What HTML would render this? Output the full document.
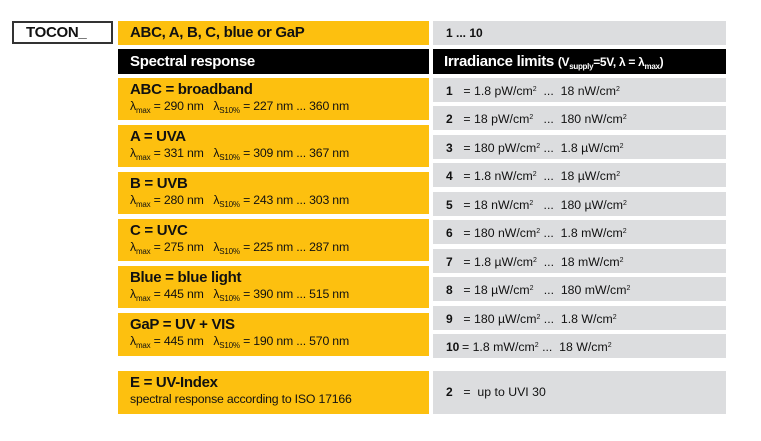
<!DOCTYPE html>
<html><head><meta charset="utf-8"><style>
*{margin:0;padding:0;box-sizing:border-box}
body{width:761px;height:441px;background:#fff;position:relative;font-family:"Liberation Sans","DejaVu Sans",sans-serif;overflow:hidden;color:#111}
.a{position:absolute}
.y{background:#fdc00f}
.g{background:#dcdddf}
.k{background:#000;color:#fff}
.t{font-weight:bold;font-size:15px;letter-spacing:-0.3px}
.s{font-size:12.3px;letter-spacing:-0.2px;margin-top:1px}
sub{font-size:8px;vertical-align:-3px}
sup{font-size:7px;vertical-align:4px}
.r{font-size:12.3px;line-height:24px;padding-left:13px;white-space:pre}
.r b{font-size:12px;display:inline-block;width:14px}
.y.b{padding:3px 12px 0 12px}
</style></head><body>
<div class="a t" style="left:12px;top:21px;width:101px;height:23px;border:2px solid #333;padding-left:12px;line-height:19px">TOCON_</div>
<div class="a y t" style="left:118px;top:21px;width:311px;height:24px;padding-left:12px;line-height:24px">ABC, A, B, C, blue or GaP</div>
<div class="a g" style="left:433px;top:21px;width:293px;height:24px;padding-left:13px;line-height:24px;font-weight:bold;font-size:12px">1 ... 10</div>
<div class="a k t" style="left:118px;top:49px;width:311px;height:25px;padding-left:12px;line-height:25px">Spectral response</div>
<div class="a k t" style="left:433px;top:49px;width:293px;height:25px;padding-left:11px;line-height:25px">Irradiance limits <span style="font-size:12px">(V<sub>supply</sub>=5V, λ = λ<sub>max</sub>)</span></div>

<div class="a y b" style="left:118px;top:78px;width:311px;height:42px"><div class="t">ABC = broadband</div><div class="s">λ<sub>max</sub> = 290 nm &nbsp; λ<sub>S10%</sub> = 227 nm ... 360 nm</div></div>
<div class="a y b" style="left:118px;top:125px;width:311px;height:42px"><div class="t">A = UVA</div><div class="s">λ<sub>max</sub> = 331 nm &nbsp; λ<sub>S10%</sub> = 309 nm ... 367 nm</div></div>
<div class="a y b" style="left:118px;top:172px;width:311px;height:42px"><div class="t">B = UVB</div><div class="s">λ<sub>max</sub> = 280 nm &nbsp; λ<sub>S10%</sub> = 243 nm ... 303 nm</div></div>
<div class="a y b" style="left:118px;top:219px;width:311px;height:42px"><div class="t">C = UVC</div><div class="s">λ<sub>max</sub> = 275 nm &nbsp; λ<sub>S10%</sub> = 225 nm ... 287 nm</div></div>
<div class="a y b" style="left:118px;top:266px;width:311px;height:42px"><div class="t">Blue = blue light</div><div class="s">λ<sub>max</sub> = 445 nm &nbsp; λ<sub>S10%</sub> = 390 nm ... 515 nm</div></div>
<div class="a y b" style="left:118px;top:313px;width:311px;height:43px"><div class="t">GaP = UV + VIS</div><div class="s">λ<sub>max</sub> = 445 nm &nbsp; λ<sub>S10%</sub> = 190 nm ... 570 nm</div></div>
<div class="a y b" style="left:118px;top:371px;width:311px;height:43px"><div class="t">E = UV-Index</div><div class="s">spectral response according to ISO 17166</div></div>

<div class="a g r" style="left:433px;top:78px;width:293px;height:24px"><b>1</b> = 1.8 pW/cm<sup>2</sup>  ...  18 nW/cm<sup>2</sup></div>
<div class="a g r" style="left:433px;top:106px;width:293px;height:24px"><b>2</b> = 18 pW/cm<sup>2</sup>   ...  180 nW/cm<sup>2</sup></div>
<div class="a g r" style="left:433px;top:135px;width:293px;height:24px"><b>3</b> = 180 pW/cm<sup>2</sup> ...  1.8 µW/cm<sup>2</sup></div>
<div class="a g r" style="left:433px;top:163px;width:293px;height:24px"><b>4</b> = 1.8 nW/cm<sup>2</sup>  ...  18 µW/cm<sup>2</sup></div>
<div class="a g r" style="left:433px;top:192px;width:293px;height:24px"><b>5</b> = 18 nW/cm<sup>2</sup>   ...  180 µW/cm<sup>2</sup></div>
<div class="a g r" style="left:433px;top:220px;width:293px;height:24px"><b>6</b> = 180 nW/cm<sup>2</sup> ...  1.8 mW/cm<sup>2</sup></div>
<div class="a g r" style="left:433px;top:249px;width:293px;height:24px"><b>7</b> = 1.8 µW/cm<sup>2</sup>  ...  18 mW/cm<sup>2</sup></div>
<div class="a g r" style="left:433px;top:277px;width:293px;height:24px"><b>8</b> = 18 µW/cm<sup>2</sup>   ...  180 mW/cm<sup>2</sup></div>
<div class="a g r" style="left:433px;top:306px;width:293px;height:24px"><b>9</b> = 180 µW/cm<sup>2</sup> ...  1.8 W/cm<sup>2</sup></div>
<div class="a g r" style="left:433px;top:334px;width:293px;height:24px"><b style="width:16px">10</b>= 1.8 mW/cm<sup>2</sup> ...  18 W/cm<sup>2</sup></div>
<div class="a g r" style="left:433px;top:371px;width:293px;height:43px;line-height:43px"><b>2</b> =  up to UVI 30</div>
</body></html>
